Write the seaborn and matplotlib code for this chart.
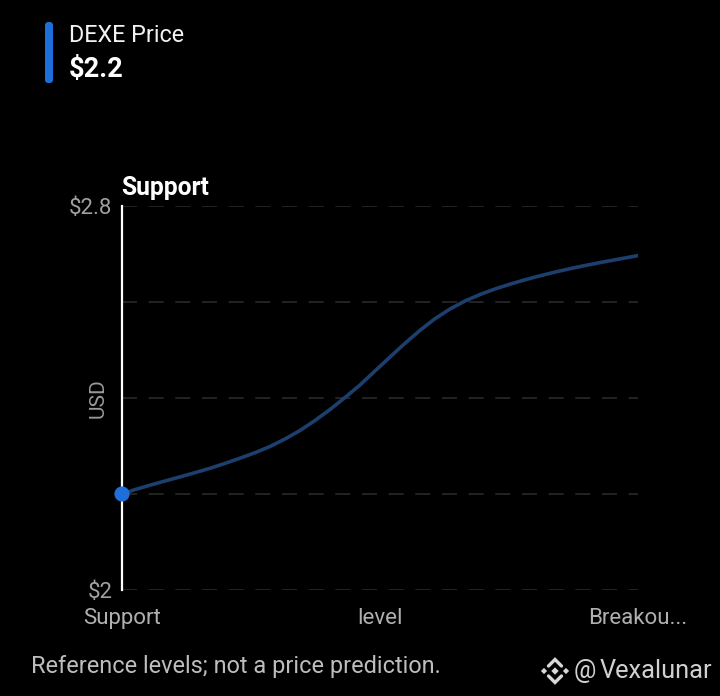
import numpy as np
import pandas as pd
import matplotlib
matplotlib.use('Agg')
import matplotlib.pyplot as plt
import seaborn as sns
from matplotlib.patches import FancyBboxPatch

tick_labels = ['Support', 'level', 'Breakou...']
tick_pos = [0, 1, 2]
price_ticks = [2.0, 2.2, 2.4, 2.6, 2.8]
price_labels = ['$2', '', '', '', '$2.8']

# points
curve_pos = [0.0, 0.0504, 0.1085, 0.1667, 0.2248, 0.2829, 0.3411, 0.3992, 0.4574, 0.5155, 0.5736, 0.6318,
             0.6899, 0.7481, 0.8062, 0.8643, 0.9225, 0.9806, 1.0388, 1.0969, 1.155, 1.2132, 1.2713, 1.3295,
             1.3876, 1.4457, 1.5039, 1.562, 1.6202, 1.6783, 1.7364, 1.7946, 1.8527, 1.9302, 2.0]
curve_price = [2.2, 2.2092, 2.2183, 2.2271, 2.2356, 2.2444, 2.2535, 2.2638, 2.2746, 2.286, 2.299, 2.3146,
               2.3323, 2.3531, 2.376, 2.401, 2.4271, 2.4563, 2.4854, 2.514, 2.541, 2.5652, 2.5854, 2.6021,
               2.6156, 2.6271, 2.6371, 2.6463, 2.6546, 2.6623, 2.6694, 2.676, 2.6821, 2.6898, 2.6967]
current_price = 2.2
df = pd.DataFrame({'pos': curve_pos, 'price': curve_price})

sns.set_theme(style='dark', rc={'figure.facecolor': 'black', 'axes.facecolor': 'black'})
plt.rcParams['font.family'] = ['Roboto', 'DejaVu Sans']

W, H = 720, 696
fig = plt.figure(figsize=(W / 100, H / 100), dpi=100)
ax = fig.add_axes([122 / W, 1 - 590 / H, 516 / W, 384 / H])

sns.lineplot(data=df, x='pos', y='price', color='#1C3F6E', linewidth=2.6, ax=ax, zorder=3)
sns.scatterplot(x=[0], y=[current_price], color='#1E6FD9', s=120, ax=ax, zorder=4, edgecolor='none', clip_on=False)

for p in price_ticks:
    ax.axhline(p, color='#2A2A2A', linewidth=1.2, dashes=(9, 7), zorder=1)

ax.set_xlim(0, 2)
ax.set_ylim(2.0, 2.8)
ax.set_xticks(tick_pos)
ax.set_xticklabels(tick_labels, fontsize=16, color='#B0B0B0')
ax.set_yticks(price_ticks)
ax.set_yticklabels(price_labels, fontsize=16, color='#A0A0A0')
ax.tick_params(axis='x', length=0, pad=13)
ax.tick_params(axis='y', length=0, pad=7)
ax.set_xlabel('')
ax.set_ylabel('USD', fontsize=15, color='#9A9A9A')
ax.yaxis.set_label_coords(-14 / 516, 0.5)
ax.grid(False)
for side in ['top', 'right', 'bottom']:
    ax.spines[side].set_visible(False)
ax.spines['left'].set_color('white')
ax.spines['left'].set_linewidth(1.6)

def fx(px):
    return px / W

def fy(px):
    return 1 - px / H

fig.text(fx(121.5), fy(188), 'Support', fontsize=17.7, fontweight='bold', color='white', va='center')
fig.text(fx(69), fy(36), 'DEXE Price', fontsize=16.8, color='#F2F2F2', va='center')
fig.text(fx(69), fy(69), '$2.2', fontsize=19.5, fontweight='bold', color='white', va='center')
fig.text(fx(31), fy(666), 'Reference levels; not a price prediction.', fontsize=16.9, color='#BDBDBD', va='center')
fig.text(fx(574), fy(671), '@', fontsize=18, color='#D0D0D0', va='center')
fig.text(fx(600), fy(671), 'Vexalunar', fontsize=18.3, color='#D0D0D0', va='center')

# legend pill
fig.patches.append(FancyBboxPatch((45 / W, 1 - 83 / H), 8 / W, 61 / H, boxstyle='round,pad=0,rounding_size=0.005',
                                  transform=fig.transFigure, facecolor='#1E6FD9', edgecolor='none', mutation_aspect=H / W))

# small diamond logo next to the handle
logo = fig.add_axes([541 / W, 1 - 685 / H, 28 / W, 28 / H])
logo.set_xlim(-14, 14)
logo.set_ylim(-14, 14)
logo.axis('off')
logo.plot([-6.5, 0, 6.5], [5, 11.5, 5], color='#D8D8D8', linewidth=2.4, solid_joinstyle='miter')
logo.plot([-6.5, 0, 6.5], [-5, -11.5, -5], color='#D8D8D8', linewidth=2.4, solid_joinstyle='miter')
logo.scatter([0, -11, 11], [0, 0, 0], marker='D', s=[14, 10, 10], color='#D8D8D8', linewidths=0)

fig.savefig('out.png', dpi=100, facecolor='black')
